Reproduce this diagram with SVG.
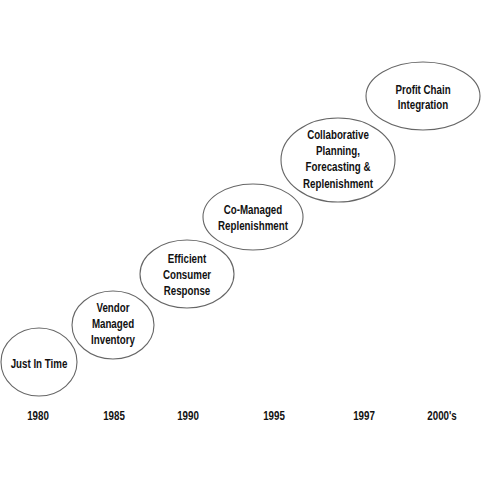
<svg xmlns="http://www.w3.org/2000/svg" width="481" height="481" viewBox="0 0 481 481">
<style>
.n{fill:#fff;stroke:#666;stroke-width:1.1}
text{font-family:"Liberation Sans",Arial,sans-serif;font-weight:bold;font-size:13px;fill:#111;text-anchor:middle}
</style>
<rect width="481" height="481" fill="#fff"/>
<g id="connectors"/>
<g id="n1"><ellipse class="n" cx="39" cy="362" rx="38" ry="34"/>
<g transform="translate(39,0) scale(0.75,1)"><text x="0" y="368">Just In Time</text></g></g>
<g id="n2"><ellipse class="n" cx="113" cy="325" rx="41" ry="34"/>
<g transform="translate(113,0) scale(0.75,1)"><text x="0" y="312">Vendor</text><text x="0" y="328">Managed</text><text x="0" y="344">Inventory</text></g></g>
<g id="n3"><ellipse class="n" cx="187" cy="274" rx="47" ry="34"/>
<g transform="translate(187,0) scale(0.75,1)"><text x="0" y="263">Efficient</text><text x="0" y="279">Consumer</text><text x="0" y="295">Response</text></g></g>
<g id="n4"><ellipse class="n" cx="253" cy="217" rx="50" ry="33"/>
<g transform="translate(253,0) scale(0.75,1)"><text x="0" y="214">Co-Managed</text><text x="0" y="230">Replenishment</text></g></g>
<g id="n5"><ellipse class="n" cx="338" cy="160" rx="57" ry="42"/>
<g transform="translate(338,0) scale(0.75,1)"><text x="0" y="139">Collaborative</text><text x="0" y="155">Planning,</text><text x="0" y="171">Forecasting &amp;</text><text x="0" y="188">Replenishment</text></g></g>
<g id="n6"><ellipse class="n" cx="423" cy="96" rx="57" ry="34"/>
<g transform="translate(423,0) scale(0.75,1)"><text x="0" y="94">Profit Chain</text><text x="0" y="109">Integration</text></g></g>
<g id="years">
<g transform="translate(38,0) scale(0.75,1)"><text x="0" y="420">1980</text></g>
<g transform="translate(114,0) scale(0.75,1)"><text x="0" y="420">1985</text></g>
<g transform="translate(188,0) scale(0.75,1)"><text x="0" y="420">1990</text></g>
<g transform="translate(274,0) scale(0.75,1)"><text x="0" y="420">1995</text></g>
<g transform="translate(364,0) scale(0.75,1)"><text x="0" y="420">1997</text></g>
<g transform="translate(442,0) scale(0.75,1)"><text x="0" y="420">2000's</text></g>
</g>
</svg>
